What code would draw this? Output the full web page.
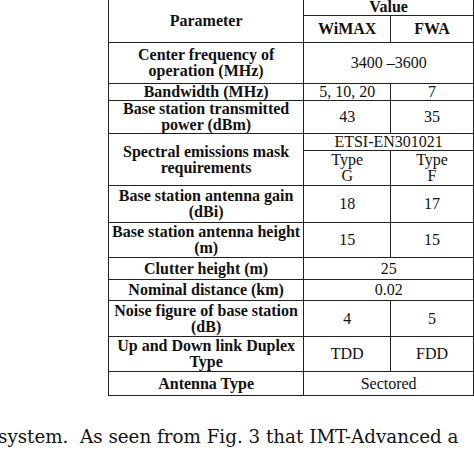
<!DOCTYPE html>
<html><head><meta charset="utf-8">
<script src="https://cdn.jsdelivr.net/npm/chart.js"></script>
<style>
html,body{margin:0;width:474px;height:453px;overflow:hidden;background:#fff;}
#wrap{position:absolute;left:0;top:0;width:474px;height:453px;overflow:hidden;}
table{position:absolute;left:108px;top:-2px;border-collapse:collapse;font-family:"Liberation Serif",serif;font-size:16px;color:#111;table-layout:fixed;}
td{border:1.3px solid #222;text-align:center;padding:0;line-height:16px;}
td.p{font-weight:bold;}
#txt{position:absolute;left:-2px;top:426px;font-family:"DejaVu Serif",serif;font-size:18.3px;white-space:nowrap;color:#111;}
</style></head><body><div id="wrap">
<table id="t"></table>
<div id="txt">system.&nbsp; As seen from Fig. 3 that IMT-Advanced a</div>
</div>
<script>
const parameters=["Center frequency of operation (MHz)","Bandwidth (MHz)","Base station  transmitted power (dBm)","Spectral emissions mask requirements","Base station  antenna gain (dBi)","Base station  antenna height (m)","Clutter height (m)","Nominal distance (km)","Noise figure of base station (dB)","Up and Down link Duplex Type","Antenna Type"];
const wimax=["3400 –3600","5, 10, 20","43","Type<br>G","18","15","25","0.02","4","TDD","Sectored"];
const fwa=[null,"7","35","Type<br>F","17","15",null,null,"5","FDD",null];
const spectralCommon="ETSI-EN301021";
const heights=[41,16,33,51,37,35,22,21,36,35,24];
const t=document.getElementById('t');
let h='<colgroup><col style="width:211px"><col style="width:91px"><col style="width:90px"></colgroup>';
h+='<tr style="height:17px"><td class="p" rowspan="2">Parameter</td><td class="p" colspan="2">Value</td></tr>';
h+='<tr style="height:27px"><td class="p">WiMAX</td><td class="p">FWA</td></tr>';
parameters.forEach((p,i)=>{
  if(i===3){
    h+=`<tr style="height:16px"><td class="p" rowspan="2">${p}</td><td colspan="2">${spectralCommon}</td></tr>`;
    h+=`<tr style="height:35px"><td>${wimax[i]}</td><td>${fwa[i]}</td></tr>`;
    return;
  }
  h+=`<tr style="height:${heights[i]}px"><td class="p">${p}</td>`+(fwa[i]===null?`<td colspan="2">${wimax[i]}</td>`:`<td>${wimax[i]}</td><td>${fwa[i]}</td>`)+'</tr>';
});
t.innerHTML=h;
</script></body></html>
